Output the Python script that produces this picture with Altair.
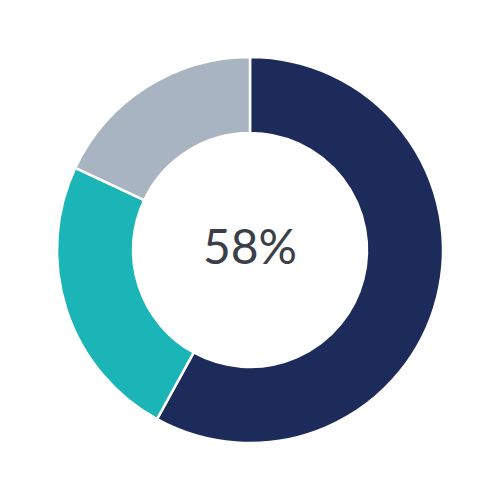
import altair as alt
import pandas as pd

categories = ["A", "B", "C"]
values = [58, 24, 18]
colors = ["#1c2b5a", "#1bb5b8", "#a9b4c3"]
order = [1, 2, 3]
label = "58%"

df = pd.DataFrame({"category": categories, "value": values, "order": order})

base = alt.Chart(df)
arc = base.mark_arc(outerRadius=193, innerRadius=117, stroke="white", strokeWidth=2.5).encode(
    theta=alt.Theta("value:Q", stack=True),
    color=alt.Color("category:N", scale=alt.Scale(domain=categories, range=colors), legend=None),
    order=alt.Order("order:Q"),
)
text = alt.Chart(pd.DataFrame({"t": [label]})).mark_text(
    font="Lato", fontSize=48, color="#3b3f48", align="center", baseline="middle"
).encode(text="t:N", x=alt.value(242), y=alt.value(242))

chart = alt.layer(arc, text).properties(
    width=484, height=484, padding=0,
    autosize=alt.AutoSizeParams(type="fit", contains="padding"),
).configure_view(strokeWidth=0)

chart.save("out.html", embed_options={"renderer": "svg", "actions": False})
